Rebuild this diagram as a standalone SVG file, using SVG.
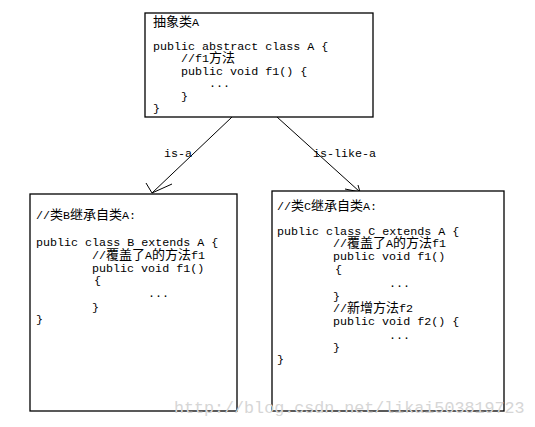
<svg xmlns="http://www.w3.org/2000/svg" width="535" height="427" viewBox="0 0 535 427">
<style>
.box{fill:#fff;stroke:#000;stroke-width:1.3}
.t{font-family:"Liberation Mono","Noto Sans CJK SC",monospace;font-size:11.7px;fill:#000}
.cj{font-size:13px}
.ln{stroke:#000;stroke-width:1;fill:none}
.wm{font-family:"Liberation Mono",monospace;font-size:16.7px;fill:#d6d6d6}
</style>
<rect width="535" height="427" fill="#fff"/>
<g id="connectors">
<line class="ln" x1="232" y1="117" x2="152" y2="193"/>
<polyline class="ln" points="146,183 152,193 172,184"/>
<line class="ln" x1="277" y1="117" x2="360" y2="192"/>
<polyline class="ln" points="358,185 360,192 345,189"/>
<text class="t" x="164" y="157">is-a</text>
<text class="t" x="313" y="157">is-like-a</text>
</g>
<g id="nodeA">
<rect class="box" x="145" y="13" width="228" height="104"/>
<text class="t" x="153" y="26"><tspan class="cj">抽象类</tspan>A</text>
<text class="t" x="153" y="50">public abstract class A {</text>
<text class="t" x="181" y="62">//f1<tspan class="cj">方法</tspan></text>
<text class="t" x="181" y="75">public void f1() {</text>
<text class="t" x="209" y="87">...</text>
<text class="t" x="181" y="100">}</text>
<text class="t" x="153" y="112">}</text>
</g>
<g id="nodeB">
<rect class="box" x="30" y="194" width="207" height="217"/>
<text class="t" x="36" y="219">//<tspan class="cj">类</tspan>B<tspan class="cj">继承自类</tspan>A:</text>
<text class="t" x="36" y="246">public class B extends A {</text>
<text class="t" x="92" y="259">//<tspan class="cj">覆盖了</tspan>A<tspan class="cj">的方法</tspan>f1</text>
<text class="t" x="92" y="272">public void f1()</text>
<text class="t" x="94" y="284">{</text>
<text class="t" x="148" y="297">...</text>
<text class="t" x="92" y="311">}</text>
<text class="t" x="36" y="323">}</text>
</g>
<g id="nodeC">
<rect class="box" x="272" y="191" width="232" height="220"/>
<text class="t" x="277" y="210">//<tspan class="cj">类</tspan>C<tspan class="cj">继承自类</tspan>A:</text>
<text class="t" x="277" y="235">public class C extends A {</text>
<text class="t" x="333" y="247">//<tspan class="cj">覆盖了</tspan>A<tspan class="cj">的方法</tspan>f1</text>
<text class="t" x="333" y="260">public void f1()</text>
<text class="t" x="335" y="273">{</text>
<text class="t" x="389" y="287">...</text>
<text class="t" x="333" y="300">}</text>
<text class="t" x="333" y="312">//<tspan class="cj">新增方法</tspan>f2</text>
<text class="t" x="333" y="325">public void f2() {</text>
<text class="t" x="389" y="339">...</text>
<text class="t" x="333" y="351">}</text>
<text class="t" x="277" y="363">}</text>
</g>
<text class="wm" x="174" y="413">http://blog.csdn.net/likai503819723</text>
</svg>
